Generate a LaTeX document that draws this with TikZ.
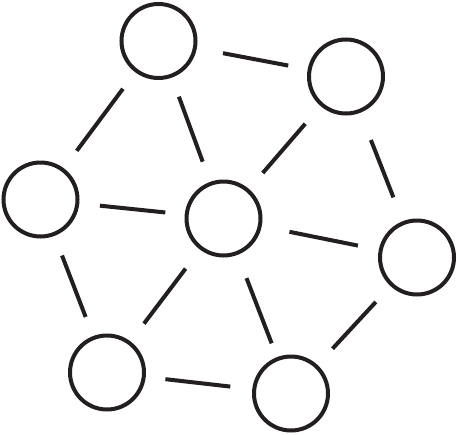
\documentclass[tikz,border=0pt]{standalone}
\definecolor{ink}{HTML}{231F20}
\begin{document}
\begin{tikzpicture}[x=1pt,y=-1pt,
  vert/.style={circle,draw=ink,line width=4pt,minimum size=74pt,inner sep=0pt,outer sep=0pt},
  link/.style={draw=ink,line width=4pt}]
\useasboundingbox (0,0) rectangle (457,434);
\node[vert] (A) at (158.5,41) {};
\node[vert] (B) at (346,76.5) {};
\node[vert] (C) at (40.5,199.5) {};
\node[vert] (D) at (223.5,218.5) {};
\node[vert] (E) at (417,257.5) {};
\node[vert] (F) at (107,372.5) {};
\node[vert] (G) at (291,393.5) {};
\draw[link,shorten <=28.6pt,shorten >=21.8pt] (A) -- (B);
\draw[link,shorten <=22.6pt,shorten >=23.7pt] (A) -- (C);
\draw[link,shorten <=22.3pt,shorten >=23.5pt] (A) -- (D);
\draw[link,shorten <=25.4pt,shorten >=23.1pt] (B) -- (D);
\draw[link,shorten <=31.2pt,shorten >=27.6pt] (B) -- (E);
\draw[link,shorten <=22.7pt,shorten >=21.5pt] (C) -- (D);
\draw[link,shorten <=23pt,shorten >=22.5pt] (C) -- (F);
\draw[link,shorten <=25.8pt,shorten >=24.3pt] (D) -- (F);
\draw[link,shorten <=26.9pt,shorten >=16.8pt] (D) -- (G);
\draw[link,shorten <=30.3pt,shorten >=23.3pt] (D) -- (E);
\draw[link,shorten <=23.6pt,shorten >=24.1pt] (E) -- (G);
\draw[link,shorten <=21.8pt,shorten >=24.1pt] (F) -- (G);
\end{tikzpicture}
\end{document}
